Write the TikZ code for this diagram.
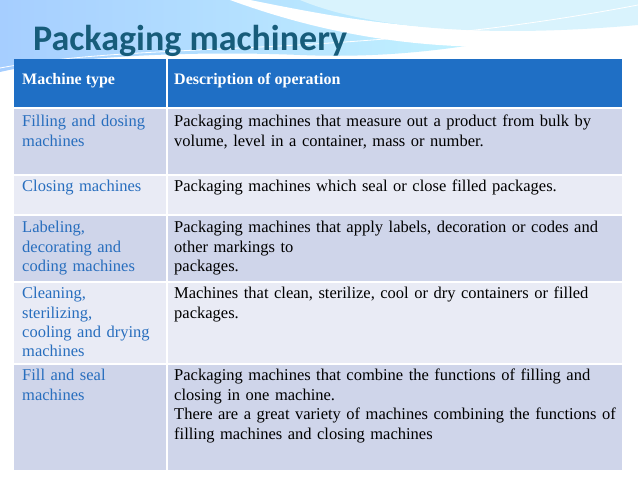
\documentclass[tikz,border=0pt]{standalone}
\usepackage{fontspec}
\setmainfont{Liberation Serif}
\newfontfamily\titlefont{Carlito}
\definecolor{hdr}{RGB}{31,111,197}
\definecolor{rowa}{RGB}{207,213,234}
\definecolor{rowb}{RGB}{233,235,245}
\definecolor{ttl}{RGB}{23,92,122}
\definecolor{lft}{RGB}{40,110,190}
\begin{document}
\begin{tikzpicture}[x=1pt,y=-1pt,
  cell/.style={anchor=north west,inner sep=0pt,align=left,font=\fontsize{16.5}{19.4}\selectfont},
  lcell/.style={cell,text width=145pt,text=lft},
  rcell/.style={cell,text width=445pt},
  hcell/.style={cell,text=white,font=\bfseries\fontsize{16}{19.4}\selectfont}]
\useasboundingbox (0,0) rectangle (638,478);
\fill[white] (0,0) rectangle (638,478);
% decorative swooshes
\shade[left color=cyan!45!blue!35,right color=cyan!20] (0,0) -- (638,0) -- (638,8) .. controls (520,40) and (420,60) .. (300,55) .. controls (180,50) and (60,58) .. (0,72) -- cycle;
\fill[white] (250,0) .. controls (350,20) and (450,40) .. (638,25) -- (638,38) .. controls (460,60) and (340,40) .. (230,0) -- cycle;
\fill[cyan!15] (300,0) -- (638,0) -- (638,25) .. controls (470,40) and (360,25) .. (300,0) -- cycle;
\draw[white,thick] (0,68) .. controls (150,40) and (350,60) .. (638,5);
\node[anchor=west,inner sep=0pt,font=\titlefont\bfseries\fontsize{36}{40}\selectfont,text=ttl] (title) at (33,41) {Packaging machinery};
% table
\fill[hdr] (14,59) rectangle (622,108);
\fill[rowa] (14,108) rectangle (622,175);
\fill[rowb] (14,175) rectangle (622,215);
\fill[rowa] (14,215) rectangle (622,282);
\fill[rowb] (14,282) rectangle (622,364);
\fill[rowa] (14,364) rectangle (622,470);
\foreach \y in {108,175,215,282,364} \draw[white,line width=1.5pt] (14,\y) -- (622,\y);
\draw[white,line width=1.5pt] (167,59) -- (167,470);
\node[hcell] (h1) at (22,73) {Machine type};
\node[hcell] (h2) at (174,73) {Description of operation};
\node[lcell] (a1) at (22,115) {Filling and dosing\\machines};
\node[rcell] (b1) at (174,115) {Packaging machines that measure out a product from bulk by\\volume, level in a container, mass or number.};
\node[lcell] (a2) at (22,180) {Closing machines};
\node[rcell] (b2) at (174,180) {Packaging machines which seal or close filled packages.};
\node[lcell] (a3) at (22,221) {Labeling,\\decorating and\\coding machines};
\node[rcell] (b3) at (174,221) {Packaging machines that apply labels, decoration or codes and\\other markings to\\packages.};
\node[lcell] (a4) at (22,287) {Cleaning,\\sterilizing,\\cooling and drying\\machines};
\node[rcell] (b4) at (174,287) {Machines that clean, sterilize, cool or dry containers or filled\\packages.};
\node[lcell] (a5) at (22,369) {Fill and seal\\machines};
\node[rcell] (b5) at (174,369) {Packaging machines that combine the functions of filling and\\closing in one machine.\\There are a great variety of machines combining the functions of\\filling machines and closing machines};
\end{tikzpicture}
\end{document}
